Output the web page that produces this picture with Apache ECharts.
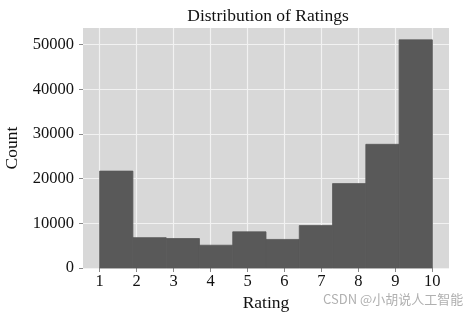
<!DOCTYPE html>
<html><head><meta charset="utf-8">
<script src="https://cdn.jsdelivr.net/npm/echarts@6/dist/echarts.min.js"></script>
<style>html,body{margin:0;padding:0;background:#fff}#c{width:474px;height:313px}</style>
</head><body><div id="c"></div>
<script>
const binEdges = [1, 1.9, 2.8, 3.7, 4.6, 5.5, 6.4, 7.3, 8.2, 9.1, 10];
const counts = [21700, 6800, 6600, 5100, 8100, 6400, 9500, 18900, 27700, 51100];
const xTicks = [1, 2, 3, 4, 5, 6, 7, 8, 9, 10];
const yTicks = [0, 10000, 20000, 30000, 40000, 50000];

const data = counts.map((c, i) => [binEdges[i], binEdges[i + 1], c]);
const serif = 'Liberation Serif';
const chart = echarts.init(document.getElementById('c'));
chart.setOption({
  animation: false,
  backgroundColor: '#fff',
  title: {
    text: 'Distribution of Ratings', left: 263, top: 2, textAlign: 'center',
    textStyle: { fontFamily: serif, fontSize: 17.5, fontWeight: 'normal', color: '#111' }
  },
  grid: { left: 83, right: 25, top: 28, bottom: 45, show: true, backgroundColor: '#d8d8d8', borderWidth: 0,
          containLabel: false, outerBoundsMode: 'none' },
  xAxis: {
    type: 'value', min: 0.55, max: 10.45,
    name: 'Rating', nameLocation: 'middle', nameGap: 18,
    nameTextStyle: { fontFamily: serif, fontSize: 17.5, color: '#111' },
    axisLine: { show: false },
    axisTick: { show: true, length: 4, lineStyle: { color: '#888' }, customValues: xTicks },
    axisLabel: { fontFamily: serif, fontSize: 16.5, color: '#111', margin: 5, customValues: xTicks, formatter: v => String(v) },
    splitLine: { show: true, lineStyle: { color: '#f2f2f2', width: 1.2 } }
  },
  yAxis: {
    type: 'value', min: 0, max: 53750,
    name: 'Count', nameLocation: 'middle', nameGap: 56, nameRotate: 90,
    nameTextStyle: { fontFamily: serif, fontSize: 17.5, color: '#111' },
    axisLine: { show: false },
    axisTick: { show: true, length: 4, lineStyle: { color: '#888' }, customValues: yTicks },
    axisLabel: { fontFamily: serif, fontSize: 16.5, color: '#111', margin: 9, customValues: yTicks, formatter: v => String(v) },
    splitLine: { show: true, lineStyle: { color: '#f2f2f2', width: 1.2 } }
  },
  graphic: [{
    type: 'text', left: 323, top: 293,
    style: { text: 'CSDN @小胡说人工智能', fontFamily: 'Noto Sans CJK SC', fontSize: 13, fill: '#b0b0b0' }
  }],
  series: [{
    type: 'custom',
    data: data,
    encode: { x: [0, 1], y: 2 },
    renderItem: function (params, api) {
      const p0 = api.coord([api.value(0), 0]);
      const p1 = api.coord([api.value(1), api.value(2)]);
      return {
        type: 'rect',
        shape: { x: p0[0], y: p1[1], width: p1[0] - p0[0], height: p0[1] - p1[1] },
        style: { fill: '#595959', stroke: '#595959', lineWidth: 0.8 }
      };
    }
  }]
});
</script></body></html>
